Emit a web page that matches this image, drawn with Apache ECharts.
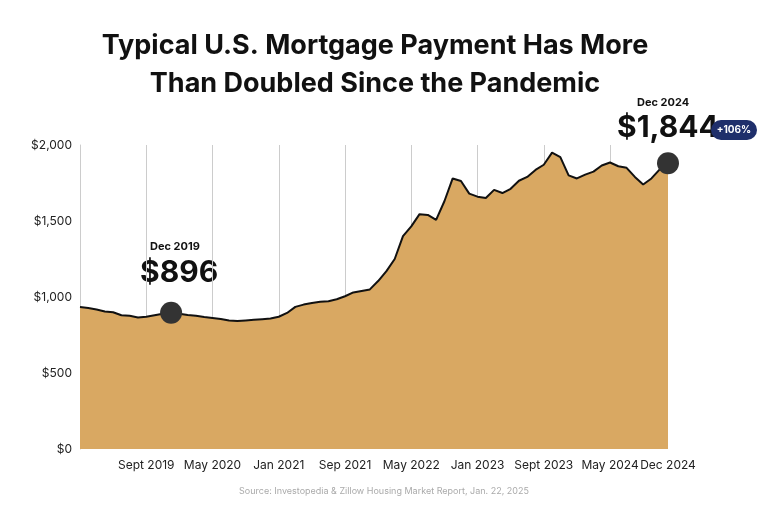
<!DOCTYPE html><html><head><meta charset="utf-8"><script src="https://cdn.jsdelivr.net/npm/echarts@6/dist/echarts.min.js"></script>
<style>html,body{margin:0;background:#fff}#c{width:768px;height:512px}</style></head><body><div id="c"></div><script>
const months=[];const mn=['Jan','Feb','Mar','Apr','May','Jun','Jul','Aug','Sep','Oct','Nov','Dec'];
for(let y=2019;y<=2024;y++)for(let m=0;m<12;m++)months.push(mn[m]+' '+y);
const payments=[934,928,918,905,900,880,876,865,870,880,890,896,890,882,876,868,862,855,845,842,846,850,854,858,870,895,935,950,960,968,972,985,1005,1030,1040,1050,1105,1170,1250,1400,1465,1545,1540,1507,1630,1780,1763,1680,1660,1651,1705,1684,1712,1765,1790,1836,1870,1950,1920,1800,1780,1805,1825,1865,1885,1860,1850,1790,1740,1780,1840,1880];
const tickLabels={8:'Sept 2019',16:'May 2020',24:'Jan 2021',32:'Sep 2021',40:'May 2022',48:'Jan 2023',56:'Sept 2023',64:'May 2024',71:'Dec 2024'};
const tickIdx=Object.keys(tickLabels).map(Number);
const ch=echarts.init(document.getElementById('c'));
const F='Inter, Roboto, sans-serif';
ch.setOption({
 animation:false,
 title:{text:'Typical U.S. Mortgage Payment Has More\nThan Doubled Since the Pandemic',left:370,top:22,textAlign:'center',textStyle:{fontFamily:F,fontSize:27,fontWeight:'bold',color:'#111',lineHeight:38}},
 grid:{left:80,right:100,top:145,bottom:63},
 xAxis:{type:'category',data:months,boundaryGap:false,
  axisLine:{show:false},axisTick:{show:false},
  axisLabel:{interval:(i)=>tickIdx.includes(i),formatter:(v,i)=>tickLabels[i]||'',color:'#222',fontFamily:F,fontSize:12,margin:10},
  splitLine:{show:true,interval:(i)=>tickIdx.includes(i)&&i!==71,lineStyle:{color:'#ccc',width:1}}},
 yAxis:{type:'value',min:0,max:2000,interval:500,
  axisLine:{show:true,lineStyle:{color:'#ccc'}},axisTick:{show:false},splitLine:{show:false},
  axisLabel:{formatter:v=>'$'+v.toLocaleString('en-US'),color:'#222',fontFamily:F,fontSize:12}},
 series:[{type:'line',data:payments,symbol:'none',lineStyle:{color:'#111',width:2},
  areaStyle:{color:'#d9a862',opacity:1},
  markPoint:{symbol:'circle',symbolSize:22,itemStyle:{color:'#333'},label:{show:false},
   data:[{coord:[11,payments[11]]},{coord:[71,payments[71]]}]}}],
 graphic:[
  {type:'text',left:150,top:241,style:{text:'Dec 2019',font:'bold 11px '+F,fill:'#111'}},
  {type:'text',left:140,top:258,style:{text:'$896',font:'bold 30px '+F,fill:'#111'}},
  {type:'text',left:637,top:97,style:{text:'Dec 2024',font:'bold 11px '+F,fill:'#111'}},
  {type:'text',left:617,top:113,style:{text:'$1,844',font:'bold 30px '+F,fill:'#111'}},
  {type:'rect',shape:{x:711,y:120,width:46,height:20,r:10},style:{fill:'#1f2f6b'}},
  {type:'text',x:734,y:130,style:{text:'+106%',font:'bold 10px '+F,fill:'#fff',align:'center',verticalAlign:'middle'}},
  {type:'text',left:'center',top:487,style:{text:'Source: Investopedia & Zillow Housing Market Report, Jan. 22, 2025',font:'9px '+F,fill:'#aaa'}}
 ]
});
</script></body></html>
